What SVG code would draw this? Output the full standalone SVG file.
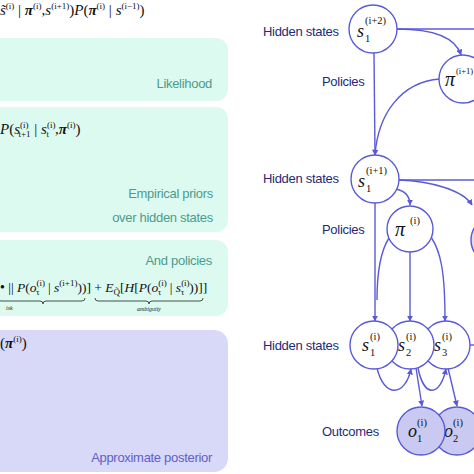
<svg xmlns="http://www.w3.org/2000/svg" width="474" height="474" viewBox="0 0 474 474">
<style>
.panelG{fill:#dcfaf0}
.panelP{fill:#d8d8f9}
.lblG{font-family:"Liberation Sans",Arial,sans-serif;font-size:13px;fill:#4c9c8c;text-anchor:end;letter-spacing:-0.3px}
.lblP{font-family:"Liberation Sans",Arial,sans-serif;font-size:13px;fill:#6060c8;text-anchor:end;letter-spacing:-0.3px}
.lbl{font-family:"Liberation Sans",Arial,sans-serif;font-size:13px;fill:#1f2a78;letter-spacing:-0.3px}
.m{font-family:"Liberation Serif","Times New Roman",serif;font-size:15px;fill:#111}
.mi{font-style:italic}
.mb{font-style:italic;font-weight:bold}
.sm{font-size:9px}
.tiny{font-family:"Liberation Serif",serif;font-size:6px;font-style:italic;fill:#222}
.node{fill:#fff;stroke:#5a5ad8;stroke-width:1.4}
.nodeF{fill:#c9c9f2;stroke:#5a5ad8;stroke-width:1.4}
.nt{font-family:"Liberation Serif","Times New Roman",serif;font-style:italic;font-size:18px;fill:#111}
.ns{font-family:"Liberation Serif","Times New Roman",serif;font-size:10.5px;fill:#111}
.e{fill:none;stroke:#5a5ad8;stroke-width:1.4}
.ea{fill:none;stroke:#5a5ad8;stroke-width:1.4;marker-end:url(#arr)}
.brace{fill:none;stroke:#222;stroke-width:0.8}
</style>
<defs>
<marker id="arr" viewBox="0 0 10 10" refX="9" refY="5" markerWidth="6" markerHeight="6" orient="auto" markerUnits="userSpaceOnUse">
<path d="M0,0 L10,5 L0,10 z" fill="#5a5ad8"/>
</marker>
</defs>
<rect width="474" height="474" fill="#fff"/>

<!-- Left panels -->
<g id="formula-top">
<text class="m" x="0" y="15"><tspan class="mi">s̃</tspan><tspan class="sm" dy="-6">(i)</tspan><tspan dy="6"> | </tspan><tspan class="mb">π</tspan><tspan class="sm" dy="-6">(i)</tspan><tspan dy="6">,</tspan><tspan class="mi">s</tspan><tspan class="sm" dy="-6">(i+1)</tspan><tspan dy="6">)</tspan><tspan class="mi">P</tspan>(<tspan class="mb">π</tspan><tspan class="sm" dy="-6">(i)</tspan><tspan dy="6"> | </tspan><tspan class="mi">s</tspan><tspan class="sm" dy="-6">(i−1)</tspan><tspan dy="6">)</tspan></text>
</g>
<g id="panel-likelihood">
<rect class="panelG" x="-20" y="38" width="248" height="63" rx="12"/>
<text class="lblG" x="212" y="88">Likelihood</text>
</g>
<g id="panel-empirical">
<rect class="panelG" x="-20" y="107" width="248" height="125" rx="12"/>
<text class="m" x="0" y="134"><tspan class="mi">P</tspan>(<tspan class="mi">s</tspan><tspan class="sm" dy="-6">(i)</tspan><tspan class="sm" dx="-10" dy="9">t+1</tspan><tspan dy="-3"> | </tspan><tspan class="mi">s</tspan><tspan class="sm" dy="-6">(i)</tspan><tspan class="sm" dx="-9" dy="9">t</tspan><tspan dy="-3" dx="6">,</tspan><tspan class="mb">π</tspan><tspan class="sm" dy="-6">(i)</tspan><tspan dy="6">)</tspan></text>
<text class="lblG" x="213" y="198">Empirical priors</text>
<text class="lblG" x="213" y="222">over hidden states</text>
</g>
<g id="panel-policies">
<rect class="panelG" x="-20" y="240" width="248" height="76" rx="12"/>
<text class="lblG" x="212" y="265">And policies</text>
<text class="m" x="0" y="292" style="font-size:13.5px"><tspan font-weight="bold" style="font-size:8px" dy="-3">●</tspan><tspan dy="3"> || </tspan><tspan class="mi">P</tspan>(<tspan class="mi">o</tspan><tspan class="sm" dy="-6">(i)</tspan><tspan class="sm" dx="-9" dy="9">τ</tspan><tspan dy="-3" dx="5"> | </tspan><tspan class="mi">s</tspan><tspan class="sm" dy="-6">(i+1)</tspan><tspan dy="6">))] + </tspan><tspan class="mi">E</tspan><tspan class="sm" dy="3">Q̃</tspan><tspan dy="-3">[</tspan><tspan class="mi">H</tspan>[<tspan class="mi">P</tspan>(<tspan class="mi">o</tspan><tspan class="sm" dy="-6">(i)</tspan><tspan class="sm" dx="-9" dy="9">τ</tspan><tspan dy="-3" dx="5"> | </tspan><tspan class="mi">s</tspan><tspan class="sm" dy="-6">(i)</tspan><tspan class="sm" dx="-9" dy="9">τ</tspan><tspan dy="-3" dx="5">))]]</tspan></text>
<path class="brace" d="M-2,298 q0,3 3,3 L40,301 q3,0 3,3 q0,-3 3,-3 L82,301 q3,0 3,-3"/>
<text class="tiny" x="6" y="310">isk</text>
<path class="brace" d="M95,298 q0,3 3,3 L146,301 q3,0 3,3 q0,-3 3,-3 L200,301 q3,0 3,-3"/>
<text class="tiny" x="149" y="311" text-anchor="middle">ambiguity</text>
</g>
<g id="panel-posterior">
<rect class="panelP" x="-20" y="330" width="248" height="142" rx="14"/>
<text class="m" x="0" y="348">(<tspan class="mb">π</tspan><tspan class="sm" dy="-6">(i)</tspan><tspan dy="6">)</tspan></text>
<text class="lblP" x="212" y="462">Approximate posterior</text>
</g>

<!-- Row labels -->
<g id="labels">
<text class="lbl" x="263" y="36">Hidden states</text>
<text class="lbl" x="322" y="86">Policies</text>
<text class="lbl" x="263" y="183">Hidden states</text>
<text class="lbl" x="322" y="234">Policies</text>
<text class="lbl" x="263" y="350">Hidden states</text>
<text class="lbl" x="322" y="436">Outcomes</text>
</g>

<!-- Connectors -->
<g id="connectors">
<path class="e" d="M397,29 L474,29"/>
<path class="ea" d="M397,29 C430,29 455,36 461,55"/>
<path class="ea" d="M374,53 L375,155"/>
<path class="ea" d="M440,79 C400,82 378,115 375,155"/>
<path class="e" d="M399,180 L474,180"/>
<path class="ea" d="M399,180 C430,181 463,190 472,205"/>
<path class="ea" d="M396,189 C405,191 410,196 410,205"/>
<path class="ea" d="M375,203 L375,321"/>
<path class="e" d="M389,238 C380,252 377,272 377,300"/>
<path class="ea" d="M410,252 L410,321"/>
<path class="ea" d="M431,237 C441,252 445,272 445,321"/>
<path class="ea" d="M377,368 C384,398 405,397 411,369"/>
<path class="ea" d="M418,368 C424,398 440,397 446,369"/>
<path class="ea" d="M416,368 L422,406"/>
<path class="ea" d="M448,368 L457,406"/>
<path class="e" d="M469,345 L474,345"/>
</g>

<!-- Nodes -->
<g id="s1-i2">
<circle class="node" cx="373" cy="29" r="24"/>
<text class="nt" x="357" y="37">s</text><text class="ns" x="365" y="42">1</text><text class="ns" x="365" y="24">(i+2)</text>
</g>
<g id="pi-i1">
<circle class="node" cx="463" cy="79" r="24"/>
<text class="nt" x="445" y="86" style="font-size:20px">π</text><text class="ns" x="456" y="74" style="font-size:8.5px">(i+1)</text>
</g>
<g id="s1-i1">
<circle class="node" cx="375" cy="179" r="24"/>
<text class="nt" x="358" y="187">s</text><text class="ns" x="366" y="192">1</text><text class="ns" x="366" y="174">(i+1)</text>
</g>
<g id="right-node">
<circle class="nodeF" cx="495" cy="240" r="24" style="fill:#dcdcf8"/>
</g>
<g id="pi-i">
<circle class="node" cx="410" cy="229" r="23"/>
<text class="nt" x="395" y="236" style="font-size:20px">π</text><text class="ns" x="410" y="224">(i)</text>
</g>
<g id="s3-i">
<circle class="node" cx="446" cy="345" r="24"/>
<text class="nt" x="434" y="351">s</text><text class="ns" x="442" y="356">3</text><text class="ns" x="442" y="340">(i)</text>
</g>
<g id="s2-i">
<circle class="node" cx="410" cy="345" r="24"/>
<text class="nt" x="398" y="351">s</text><text class="ns" x="406" y="356">2</text><text class="ns" x="406" y="340">(i)</text>
</g>
<g id="s1-i">
<circle class="node" cx="374" cy="345" r="24"/>
<text class="nt" x="362" y="351">s</text><text class="ns" x="370" y="356">1</text><text class="ns" x="370" y="340">(i)</text>
</g>
<g id="o3-i">
<circle class="nodeF" cx="493" cy="431" r="24"/>
</g>
<g id="o2-i">
<circle class="nodeF" cx="457" cy="431" r="24"/>
<text class="nt" x="444" y="437">o</text><text class="ns" x="453" y="442">2</text><text class="ns" x="453" y="426">(i)</text>
</g>
<g id="o1-i">
<circle class="nodeF" cx="421" cy="431" r="24"/>
<text class="nt" x="408" y="437">o</text><text class="ns" x="417" y="442">1</text><text class="ns" x="417" y="426">(i)</text>
</g>
</svg>
